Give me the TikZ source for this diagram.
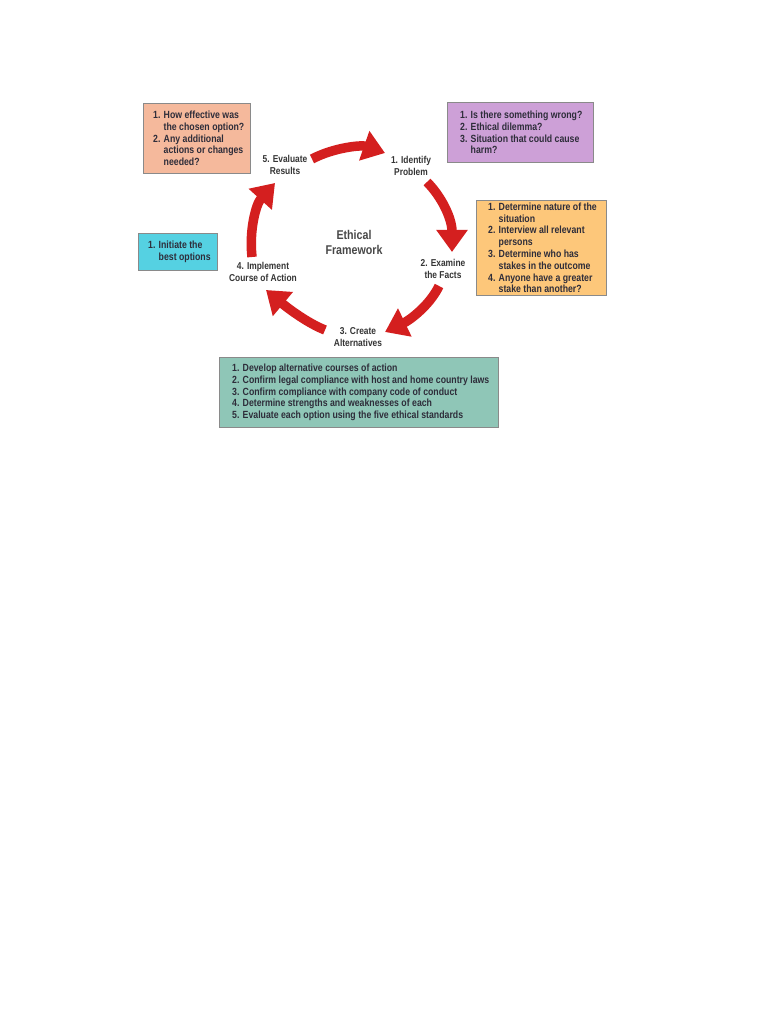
\documentclass[tikz,border=0pt]{standalone}
\usepackage{fontspec}
\setmainfont{Liberation Sans}[FakeStretch=0.84]
\usetikzlibrary{arrows.meta}
\definecolor{salmonfill}{HTML}{F5B99C}
\definecolor{cyanfill}{HTML}{55D1E2}
\definecolor{purplefill}{HTML}{CDA0D7}
\definecolor{orangefill}{HTML}{FDC77A}
\definecolor{greenfill}{HTML}{8FC6B7}
\definecolor{boxline}{HTML}{8A8A8A}
\definecolor{boxtext}{HTML}{2E2D3A}
\definecolor{labeltext}{HTML}{353535}
\definecolor{centertext}{HTML}{484848}
\definecolor{arrowred}{HTML}{D41F1F}
\begin{document}
\begin{tikzpicture}[x=1pt,y=-1pt,
  infobox/.style={draw=boxline, line width=0.8pt, anchor=north west, inner sep=0pt},
  infotext/.style={anchor=west, align=left, inner sep=0pt, text=boxtext,
    font=\bfseries\fontsize{10.4}{11.8}\selectfont},
  stagelabel/.style={align=center, inner sep=0pt, text=labeltext,
    font=\bfseries\fontsize{10}{11.6}\selectfont},
  flow/.style={draw=arrowred, line width=9.5pt, line cap=butt,
    -{Triangle[length=22pt,width=30pt]}}]
\path[use as bounding box, fill=white] (0,0) rectangle (768,1024);

% info boxes
\node[infobox, fill=salmonfill, minimum width=107pt, minimum height=70pt] (bs) at (143,103) {};
\node[infotext] (ts) at ([xshift=10pt]bs.west)
  {1. How effective was\\\phantom{1. }the chosen option?\\2. Any additional\\\phantom{2. }actions or changes\\\phantom{2. }needed?};

\node[infobox, fill=cyanfill, minimum width=79pt, minimum height=37pt] (bc) at (138,233) {};
\node[infotext] (tc) at ([xshift=10pt]bc.west)
  {1. Initiate the\\\phantom{1. }best options};

\node[infobox, fill=purplefill, minimum width=146pt, minimum height=60pt] (bp) at (447,102) {};
\node[infotext] (tp) at ([xshift=13pt]bp.west)
  {1. Is there something wrong?\\2. Ethical dilemma?\\3. Situation that could cause\\\phantom{3. }harm?};

\node[infobox, fill=orangefill, minimum width=130pt, minimum height=95pt] (bo) at (476,200) {};
\node[infotext] (to) at ([xshift=12pt]bo.west)
  {1. Determine nature of the\\\phantom{1. }situation\\2. Interview all relevant\\\phantom{2. }persons\\3. Determine who has\\\phantom{3. }stakes in the outcome\\4. Anyone have a greater\\\phantom{4. }stake than another?};

\node[infobox, fill=greenfill, minimum width=279pt, minimum height=70pt] (bg) at (219,357) {};
\node[infotext] (tg) at ([xshift=13pt]bg.west)
  {1. Develop alternative courses of action\\2. Confirm legal compliance with host and home country laws\\3. Confirm compliance with company code of conduct\\4. Determine strengths and weaknesses of each\\5. Evaluate each option using the five ethical standards};

% stage labels
\node[stagelabel] (l1) at (411,166) {1. Identify\\Problem};
\node[stagelabel] (l2) at (443,269) {2. Examine\\the Facts};
\node[stagelabel] (l3) at (358,337) {3. Create\\Alternatives};
\node[stagelabel] (l4) at (263,272) {4. Implement\\Course of Action};
\node[stagelabel] (l5) at (285,165) {5. Evaluate\\Results};
\node[align=center, inner sep=0pt, text=centertext,
  font=\bfseries\fontsize{12.7}{15}\selectfont] (ctr) at (354,242) {Ethical\\Framework};

% arrow end points
\coordinate (a5s) at (312,159);
\coordinate (a5e) at (385,153);
\coordinate (a1s) at (427,182);
\coordinate (a1e) at (452,252);
\coordinate (a2s) at (439,286);
\coordinate (a2e) at (385,332);
\coordinate (a3s) at (325,330);
\coordinate (a3e) at (266,290);
\coordinate (a4s) at (252,257);
\coordinate (a4e) at (275,183);

\draw[flow] (a5s) .. controls (335,147) and (362,145) .. (a5e);
\draw[flow] (a1s) .. controls (441,196) and (452,218) .. (a1e);
\draw[flow] (a2s) .. controls (430,305) and (410,320) .. (a2e);
\draw[flow] (a3s) .. controls (305,322) and (284,305) .. (a3e);
\draw[flow] (a4s) .. controls (249,230) and (256,204) .. (a4e);
\end{tikzpicture}
\end{document}
